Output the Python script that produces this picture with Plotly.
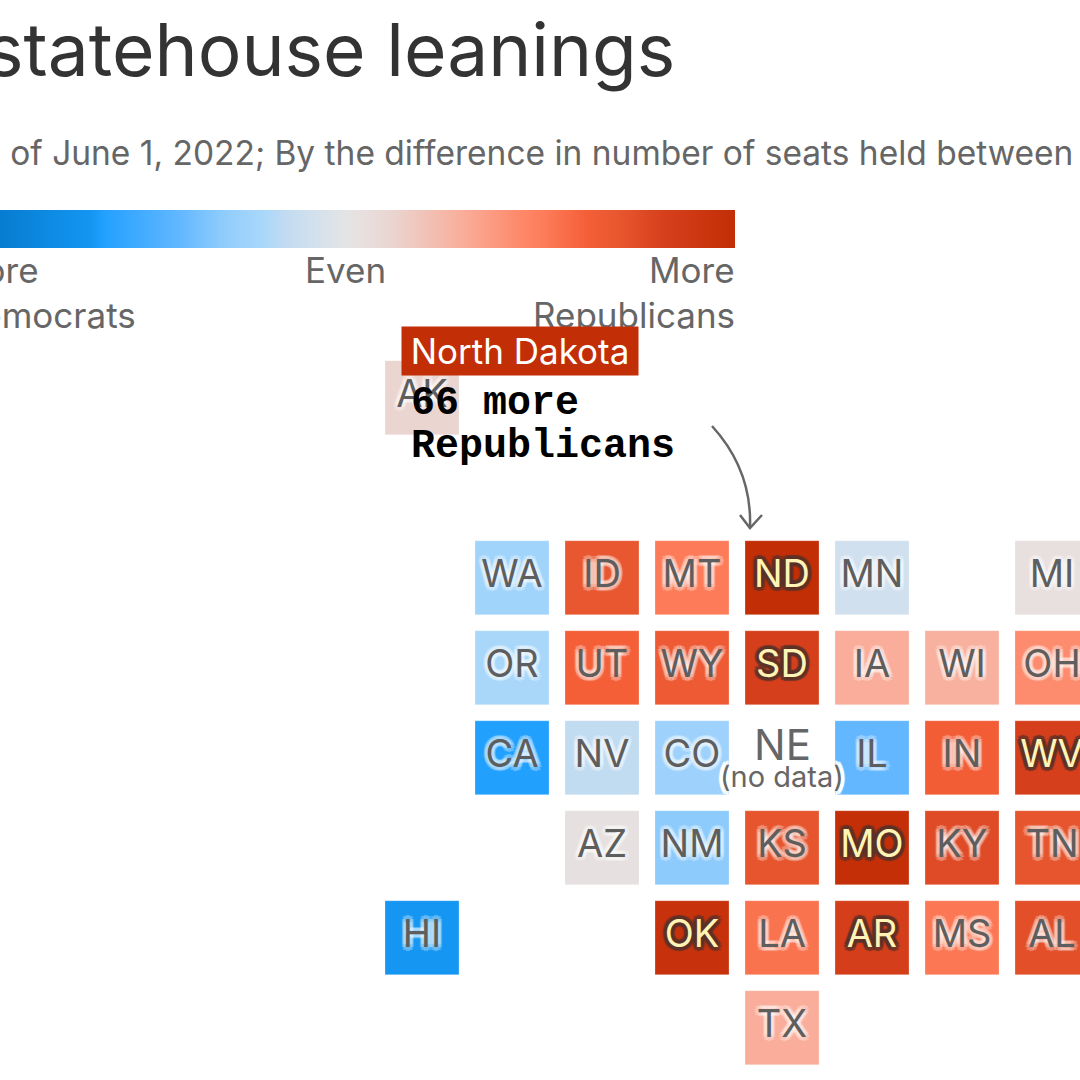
#!/usr/bin/env python3

import plotly.graph_objects as go

# difference in seats held, Republicans minus Democrats
states = ['AK', 'WA', 'ID', 'MT', 'ND', 'MN', 'MI',
          'OR', 'UT', 'WY', 'SD', 'IA', 'WI', 'OH',
          'CA', 'NV', 'CO', 'IL', 'IN', 'WV',
          'AZ', 'NM', 'KS', 'MO', 'KY', 'TN',
          'HI', 'OK', 'LA', 'AR', 'MS', 'AL',
          'TX']
cols = [0, 1, 2, 3, 4, 5, 7,
        1, 2, 3, 4, 5, 6, 7,
        1, 2, 3, 5, 6, 7,
        2, 3, 4, 5, 6, 7,
        0, 3, 4, 5, 6, 7,
        4]
rows = [0, 2, 2, 2, 2, 2, 2,
        3, 3, 3, 3, 3, 3, 3,
        4, 4, 4, 4, 4, 4,
        5, 5, 5, 5, 5, 5,
        6, 6, 6, 6, 6, 6,
        7]
seat_diff = [8, -16, 46, 34, 66, -6, 3,
             -14, 41, 44, 54, 20, 19, 29,
             -41, -10, -17, -28, 42, 54,
             2, -21, 47, 65, 50, 47,
             -43, 63, 36, 55, 35, 49,
             20]

scale_max = 66
scale_stops = [(-1, '#0070c0'), (-0.65, '#1496f2'), (-0.62, '#22a0ff'), (-0.42, '#64b8ff'),
               (-0.32, '#8ccbfc'), (-0.26, '#9dd2fc'), (-0.21, '#a9d7fa'), (-0.15, '#c2dbf1'),
               (-0.09, '#d0e0ee'), (0, '#e4e4e4'), (0.05, '#e8dfde'), (0.12, '#ead5d0'),
               (0.3, '#f9ae9b'), (0.44, '#fd8b6d'), (0.515, '#fd7b58'), (0.62, '#f45f38'),
               (0.7, '#e8572f'), (0.82, '#d63f1c'), (1, '#c22e06')]
colorscale = [[(v + 1) / 2, c] for v, c in scale_stops]

SANS = 'Inter'
GREY = '#666666'
DARK = '#333333'
FONT_SIZE = 38


def halo(color, r=4):
    offsets = [(r, 0), (-r, 0), (0, r), (0, -r), (r-1, r-1), (1-r, r-1), (r-1, 1-r), (1-r, 1-r)]
    return ', '.join(f'{a}px {b}px 1px {color}' for a, b in offsets)


def cell_trace(idx, text_color, shadow, showscale):
    marker = dict(symbol='square', size=74, color=[seat_diff[i] for i in idx],
                  colorscale=colorscale, cmin=-scale_max, cmax=scale_max,
                  line=dict(width=1, color='rgba(255,255,255,0.25)'),
                  showscale=showscale)
    if showscale:
        marker['colorbar'] = dict(orientation='h', thicknessmode='pixels', thickness=38,
                                  lenmode='fraction', len=780/1080,
                                  x=-45/1080, xanchor='left', y=1-210/1080, yanchor='top',
                                  xpad=0, ypad=0, outlinewidth=0, borderwidth=0,
                                  ticks='', showticklabels=False)
    return go.Scatter(x=[cols[i] for i in idx], y=[rows[i] for i in idx],
                      text=[states[i] for i in idx], mode='markers+text',
                      textposition='middle center', marker=marker, hoverinfo='text',
                      textfont=dict(family=SANS, size=FONT_SIZE, color=text_color, shadow=shadow))


dark_cells = [i for i, v in enumerate(seat_diff) if v >= 54]
light_cells = [i for i, v in enumerate(seat_diff) if v < 54]

fig = go.Figure()
fig.add_trace(cell_trace(light_cells, '#5e5e5e', halo('rgba(255,255,255,0.3)'), True))
fig.add_trace(cell_trace(dark_cells, '#fff4b5', halo('rgba(90,50,40,0.75)'), False))


def label(px, py, text, size, color=GREY, anchor='left', family=SANS, **kw):
    fig.add_annotation(xref='paper', yref='paper', x=px/1080, y=1-py/1080, text=text, showarrow=False,
                       xanchor=anchor, yanchor='middle', font=dict(family=family, size=size, color=color), **kw)


label(677, 49, 'statehouse leanings', 73, DARK, 'right')
label(1075, 153, 'As of June 1, 2022; By the difference in number of seats held between', 33.5, GREY, 'right')
label(41, 270, 'More', 35, GREY, 'right')
label(138, 315, 'Democrats', 35, GREY, 'right')
label(345, 270, 'Even', 35, GREY, 'center')
label(737, 270, 'More', 35, GREY, 'right')
label(737, 315, 'Republicans', 35, GREY, 'right')

# tooltip for the largest difference
label(401, 351, 'North Dakota', 35, 'white', 'left', bgcolor='#c22e06', width=236, height=48, borderpad=0, align='center')
label(409, 404, '66 more', 40, 'black', 'left', 'Liberation Mono')
label(409, 446, 'Republicans', 40, 'black', 'left', 'Liberation Mono')
fig.layout.annotations[-1].font.weight = 'bold'
fig.layout.annotations[-2].font.weight = 'bold'

# Nebraska has no partisan seat count
fig.add_annotation(x=4, y=4, yshift=13, text='NE', showarrow=False,
                   font=dict(family=SANS, size=42, color=GREY))
fig.add_annotation(x=4, y=4, yshift=-19, text='(no data)', showarrow=False,
                   font=dict(family=SANS, size=29, color=GREY, shadow=halo('white')))


def paper_path(points):
    x0, y0 = points[0]
    return f'M {x0/1080} {1-y0/1080} ' + ' '.join(f'L {x/1080} {1-y/1080}' for x, y in points[1:])


fig.add_shape(type='path', xref='paper', yref='paper',
              path=f'M {712/1080} {1-426/1080} Q {752/1080} {1-470/1080} {750/1080} {1-527/1080}',
              line=dict(color=GREY, width=2.5))
fig.add_shape(type='path', xref='paper', yref='paper',
              path=paper_path([(740, 515), (750, 528), (762, 515)]),
              line=dict(color=GREY, width=2.5))

fig.update_xaxes(visible=False, range=[-422/90, (1080-422)/90])
fig.update_yaxes(visible=False, range=[(1080-397.7)/90, -397.7/90])
fig.update_layout(width=1080, height=1080, showlegend=False, plot_bgcolor='white', paper_bgcolor='white',
                  margin=dict(l=0, r=0, t=0, b=0, autoexpand=False))

fig.write_html("out.html", config={'displayModeBar': False},
               post_script="document.body.style.margin='0';document.body.style.overflow='hidden';")
